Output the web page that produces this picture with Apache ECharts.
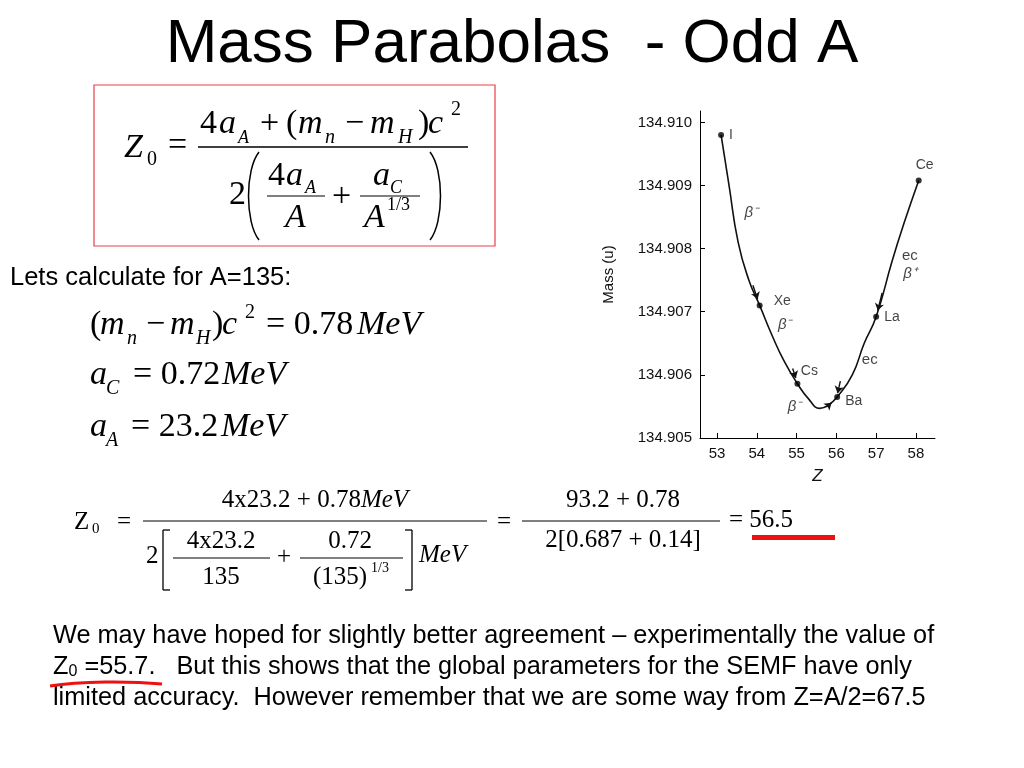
<!DOCTYPE html>
<html><head><meta charset="utf-8">
<script src="https://cdn.jsdelivr.net/npm/echarts@6/dist/echarts.min.js"></script>
<style>html,body{margin:0;padding:0;background:#fff}#c{width:1024px;height:768px}</style>
</head><body><div id="c"></div>
<script>
// Data
const nuclides = ['I','Xe','Cs','Ba','La','Ce'];
const nuclideZ = [53.1, 54.07, 55.02, 56.02, 57.0, 58.07];
const nuclideMass = [134.9098, 134.9071, 134.90586, 134.90565, 134.90692, 134.90908];
const curveZ = [53.1,53.3,53.53,53.8,54.07,54.4,54.7,55.02,55.3,55.58,55.8,56.02,56.4,56.7,57.0,57.4,57.7,58.07];
const curveMass = [134.9098,134.9090,134.9081,134.9075,134.9071,134.9066,134.9062,134.90586,134.90562,134.90547,134.90552,134.90565,134.9060,134.9065,134.90692,134.9078,134.9084,134.90908];
const xTicks = [53,54,55,56,57,58];
const yTicks = [134.905,134.906,134.907,134.908,134.909,134.910];
const decayLabels = ['β⁻','β⁻','β⁻','ec','ec','β⁺'];
const decayZ = [53.86, 54.70, 54.95, 56.84, 57.85, 57.85];
const decayMass = [134.90857, 134.90679, 134.90550, 134.90623, 134.90788, 134.90760];
const arrows = [
  [[53.9,134.90742],[54.02,134.90720]],
  [[54.9,134.9061],[54.98,134.90595]],
  [[55.75,134.90549],[55.88,134.90556]],
  [[56.1,134.9059],[56.03,134.90571]],
  [[57.15,134.9073],[57.04,134.90702]]
];

const SER = '"Liberation Serif","DejaVu Serif",serif';
const SANS = '"Liberation Sans",Arial,sans-serif';
const G = [];
function T(x,y,text,size,opt){
  opt=opt||{};
  G.push({type:'text',x:x,y:y,style:{text:text,fill:'#000',
    font:(opt.it?'italic ':'')+size+'px '+(opt.sans?SANS:SER),
    textVerticalAlign:'middle',textAlign:opt.align||'left',rich:opt.rich}});
}
function L(x1,y1,x2,y2,w,c){G.push({type:'line',shape:{x1:x1,y1:y1,x2:x2,y2:y2},style:{stroke:c||'#000',lineWidth:w||1.2}});}
function P(x,y1,y2,dir){
  const c=x+dir*14;
  G.push({type:'bezierCurve',shape:{x1:x,y1:y1,x2:x,y2:y2,cpx1:c,cpy1:y1+(y2-y1)*0.2,cpx2:c,cpy2:y1+(y2-y1)*0.8},style:{stroke:'#000',lineWidth:1.5,fill:'none'}});
}
function B(x,y1,y2,dir){ L(x,y1,x,y2,1.3); L(x,y1,x+dir*7,y1,1.3); L(x,y2,x+dir*7,y2,1.3); }

T(512,45,'Mass Parabolas  - Odd A',62,{sans:1,align:'center'});
G.push({type:'rect',shape:{x:94,y:85,width:401,height:161},style:{fill:'none',stroke:'#e8404a',lineWidth:1.2}});
T(124,148,'Z',34,{it:1}); T(147,160,'0',20);
T(168,146,'=',34);
L(198,147,468,147,1.3);
T(200,124,'4',34); T(219,124,'a',34,{it:1}); T(238,138,'A',18,{it:1});
T(260,124,'+',34); T(286,124,'(',34); T(298,124,'m',34,{it:1}); T(325,138,'n',20,{it:1});
T(345,124,'−',34); T(370,124,'m',34,{it:1}); T(398,138,'H',20,{it:1});
T(418,124,')',34); T(428,124,'c',34,{it:1}); T(451,110,'2',20);
T(229,195,'2',34);
P(259,152,240,-1); P(430,152,240,1);
T(268,176,'4',34); T(286,176,'a',34,{it:1}); T(305,188,'A',18,{it:1});
L(267,196,325,196,1);
T(285,218,'A',34,{it:1});
T(332,197,'+',34);
T(373,176,'a',34,{it:1}); T(390,188,'C',18,{it:1});
L(360,196,420,196,1);
T(364,218,'A',34,{it:1}); T(387,205,'1/3',18);

T(10,278,'Lets calculate for A=135:',25.5,{sans:1});
T(90,325,'(',34); T(100,325,'m',34,{it:1}); T(127,339,'n',20,{it:1}); T(146,325,'−',34);
T(170,325,'m',34,{it:1}); T(196,339,'H',20,{it:1}); T(212,325,')',34); T(222,325,'c',34,{it:1}); T(245,313,'2',20);
T(266,325,'= 0.78',34); T(357,325,'MeV',34,{it:1});
T(90,375,'a',34,{it:1}); T(106,389,'C',20,{it:1}); T(133,375,'= 0.72',34); T(222,375,'MeV',34,{it:1});
T(90,427,'a',34,{it:1}); T(106,441,'A',20,{it:1}); T(131,427,'= 23.2',34); T(221,427,'MeV',34,{it:1});

T(74,522,'Z',25); T(92,529,'0',15); T(117,522,'=',25);
L(143,521,487,521,1.2);
G.push({type:'text',x:315,y:500,style:{text:'{a|4x23.2 + 0.78}{i|MeV}',textAlign:'center',textVerticalAlign:'middle',
  rich:{a:{font:'25px '+SER,fill:'#000'},i:{font:'italic 25px '+SER,fill:'#000'}}}});
T(146,556,'2',25); B(163,530,590,1); B(412,530,590,-1);
T(221,541,'4x23.2',25,{align:'center'}); L(173,558,270,558,1); T(221,577,'135',25,{align:'center'});
T(277,557,'+',25);
T(350,541,'0.72',25,{align:'center'}); L(300,558,403,558,1); T(340,577,'(135)',25,{align:'center'}); T(371,568,'1/3',14);
T(419,555,'MeV',25,{it:1});
T(497,522,'=',25);
L(522,521,720,521,1.2);
T(623,500,'93.2 + 0.78',25,{align:'center'});
T(623,540,'2[0.687 + 0.14]',25,{align:'center'});
T(729,520,'= 56.5',25);
G.push({type:'rect',shape:{x:752,y:535,width:83,height:5},style:{fill:'#ee1111'}});

T(53,636,'We may have hoped for slightly better agreement – experimentally the value of',25.3,{sans:1});
G.push({type:'text',x:53,y:667,style:{text:'{a|Z}{s|0}{a| =55.7.   But this shows that the global parameters for the SEMF have only}',
  textVerticalAlign:'middle',rich:{a:{font:'25.3px '+SANS,fill:'#000'},s:{font:'16px '+SANS,fill:'#000',padding:[10,0,0,0]}}}});
T(53,698,'limited accuracy.  However remember that we are some way from Z=A/2=67.5',25.3,{sans:1});
G.push({type:'bezierCurve',shape:{x1:50,y1:686,x2:162,y2:684,cpx1:80,cpy1:681,cpx2:130,cpy2:681},style:{stroke:'#ee1111',lineWidth:3,fill:'none'}});

const chart = echarts.init(document.getElementById('c'));
chart.setOption({
  animation:false,
  grid:{left:700,top:111,width:235,height:327},
  xAxis:{type:'value',min:52.57,max:58.48,interval:1,
    axisLine:{show:true,lineStyle:{color:'#000'}},
    axisTick:{show:true,inside:true,length:5,lineStyle:{color:'#000'},customValues:xTicks},
    axisLabel:{color:'#111',fontSize:15,fontFamily:SANS,margin:8,customValues:xTicks,formatter:v=>String(Math.round(v))},
    splitLine:{show:false},
    name:'Z',nameLocation:'middle',nameGap:30,nameTextStyle:{fontStyle:'italic',fontSize:17,fontFamily:SANS,color:'#111'}},
  yAxis:{type:'value',min:134.905,max:134.91018,
    axisLine:{show:true,lineStyle:{color:'#000'}},
    axisTick:{show:true,inside:true,length:5,lineStyle:{color:'#000'},customValues:yTicks},
    axisLabel:{color:'#111',fontSize:15,fontFamily:SANS,margin:8,customValues:yTicks,formatter:v=>v.toFixed(3)},
    splitLine:{show:false},
    name:'Mass (u)',nameLocation:'middle',nameGap:84,nameRotate:90,nameTextStyle:{fontSize:15,fontFamily:SANS,color:'#111'}},
  series:[
    {type:'line',smooth:true,symbol:'none',data:curveZ.map((z,i)=>[z,curveMass[i]]),lineStyle:{color:'#111',width:1.6},z:2},
    {type:'scatter',symbolSize:6,itemStyle:{color:'#000'},z:4,
      data:nuclideZ.map((z,i)=>({value:[z,nuclideMass[i]],label:{show:true,
        position:['right','right','top','right','right','top'][i],
        offset:[[0,0],[6,-4],[12,2],[0,4],[0,0],[6,0]][i],
        formatter:nuclides[i],fontSize:14,fontFamily:SANS,color:'#111'}}))},
    {type:'scatter',symbolSize:0,z:4,data:decayZ.map((z,i)=>({value:[z,decayMass[i]],label:{show:true,position:'inside',
      formatter:decayLabels[i],fontSize:15,fontFamily:SANS,color:'#111',fontStyle:decayLabels[i]==='ec'?'normal':'italic'}}))},
    {type:'lines',coordinateSystem:'cartesian2d',symbol:['none','arrow'],symbolSize:7,
      lineStyle:{color:'#111',width:1.4,opacity:1},data:arrows.map(a=>({coords:a})),z:3}
  ],
  graphic:G
});
</script></body></html>
